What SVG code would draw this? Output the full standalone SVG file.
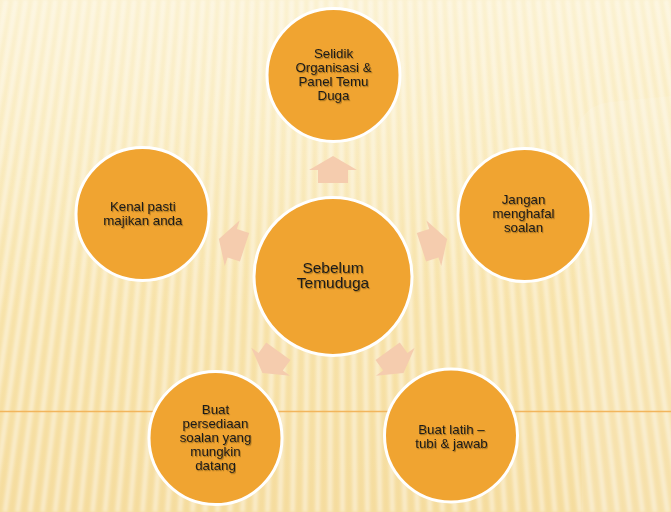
<svg xmlns="http://www.w3.org/2000/svg" width="671" height="512" viewBox="0 0 671 512">
  <defs>
    <linearGradient id="bg" x1="0" y1="0" x2="0" y2="1">
      <stop offset="0" stop-color="#FAEDC2"/>
      <stop offset="0.5" stop-color="#F8E4AC"/>
      <stop offset="1" stop-color="#F5DC9E"/>
    </linearGradient>
    <linearGradient id="topglow" x1="0" y1="0" x2="0" y2="1">
      <stop offset="0" stop-color="#FFFFFF" stop-opacity="0.22"/>
      <stop offset="0.6" stop-color="#FFFFFF" stop-opacity="0"/>
    </linearGradient>
    <filter id="soft" x="-5%" y="-5%" width="110%" height="110%">
      <feGaussianBlur stdDeviation="1.5"/>
    </filter>
    <filter id="tshadow" x="-10%" y="-20%" width="120%" height="140%">
      <feDropShadow dx="0.9" dy="1.2" stdDeviation="0.45" flood-color="#4a3300" flood-opacity="0.45"/>
    </filter>
    <polygon id="arrow" points="0,-120 24,-106 15,-106 15,-93 -15,-93 -15,-106 -24,-106"/>
  </defs>
  <style>
    .node circle { fill: #F0A431; stroke: #FFFFFF; stroke-width: 3; }
    .node text { font-family: "Liberation Sans", Arial, sans-serif; font-size: 13.3px; fill: #1A1A1A; text-anchor: middle; filter: url(#tshadow); }
    #center text { font-size: 15.5px; }
    .arrow { fill: #F5CCAE; }
  </style>

  <!-- background -->
  <rect x="0" y="0" width="671" height="512" fill="url(#bg)"/>
  <g filter="url(#soft)">
    <path fill="none" stroke="#FFFFFF" stroke-opacity="0.42" stroke-width="5"
      d="M-3.8 0L-95 512M6.05 0L-82.5 512M15.9 0L-70 512M25.75 0L-57.5 512M35.6 0L-45 512M45.45 0L-32.5 512M55.3 0L-20 512M65.15 0L-7.5 512M75 0L5 512M84.85 0L17.5 512M94.7 0L30 512M104.55 0L42.5 512M114.4 0L55 512M124.25 0L67.5 512M134.1 0L80 512M143.95 0L92.5 512M153.8 0L105 512M163.65 0L117.5 512M173.5 0L130 512M183.35 0L142.5 512M193.2 0L155 512M203.05 0L167.5 512M212.9 0L180 512M222.75 0L192.5 512M232.6 0L205 512M242.45 0L217.5 512M252.3 0L230 512M262.15 0L242.5 512M272 0L255 512M281.85 0L267.5 512M291.7 0L280 512M301.55 0L292.5 512M311.4 0L305 512M321.25 0L317.5 512M331.1 0L330 512M340.95 0L342.5 512M350.8 0L355 512M360.65 0L367.5 512M370.5 0L380 512M380.35 0L392.5 512M390.2 0L405 512M400.05 0L417.5 512M409.9 0L430 512M419.75 0L442.5 512M429.6 0L455 512M439.45 0L467.5 512M449.3 0L480 512M459.15 0L492.5 512M469 0L505 512M478.85 0L517.5 512M488.7 0L530 512M498.55 0L542.5 512M508.4 0L555 512M518.25 0L567.5 512M528.1 0L580 512M537.95 0L592.5 512M547.8 0L605 512M557.65 0L617.5 512M567.5 0L630 512M577.35 0L642.5 512M587.2 0L655 512M597.05 0L667.5 512M606.9 0L680 512M616.75 0L692.5 512M626.6 0L705 512M636.45 0L717.5 512M646.3 0L730 512M656.15 0L742.5 512M666 0L755 512M675.85 0L767.5 512"/>
  </g>
  <rect x="0" y="0" width="671" height="512" fill="url(#topglow)"/>
  <path d="M671 96 L610 102 Q578 106 576 140 L582 512 L671 512 Z" fill="#FFFFFF" fill-opacity="0.12"/>
  <line x1="0" y1="411.5" x2="671" y2="411.5" stroke="#F2B55C" stroke-width="1.4"/>

  <!-- connectors -->
  <g id="connectors" class="arrow">
    <use href="#arrow" transform="translate(333,276)"/>
    <use href="#arrow" transform="translate(333,276) rotate(72)"/>
    <use href="#arrow" transform="translate(333,276) rotate(144)"/>
    <use href="#arrow" transform="translate(333,276) rotate(216)"/>
    <use href="#arrow" transform="translate(333,276) rotate(288)"/>
  </g>

  <!-- nodes -->
  <g id="center" class="node">
    <circle cx="333" cy="276.5" r="79"/>
    <text x="333" y="272.8">Sebelum</text>
    <text x="333" y="288.4">Temuduga</text>
  </g>
  <g id="n-selidik" class="node">
    <circle cx="333.5" cy="75" r="66.5"/>
    <text x="333.5" y="58">Selidik</text>
    <text x="333.5" y="72">Organisasi &amp;</text>
    <text x="333.5" y="86">Panel Temu</text>
    <text x="333.5" y="100">Duga</text>
  </g>
  <g id="n-jangan" class="node">
    <circle cx="524.5" cy="215" r="66.5"/>
    <text x="523.5" y="204">Jangan</text>
    <text x="523.5" y="218">menghafal</text>
    <text x="523.5" y="232">soalan</text>
  </g>
  <g id="n-latih" class="node">
    <circle cx="451" cy="435.5" r="66.5"/>
    <text x="451.5" y="433.8">Buat latih –</text>
    <text x="451.5" y="447.8">tubi &amp; jawab</text>
  </g>
  <g id="n-persediaan" class="node">
    <circle cx="215.5" cy="438" r="66.5"/>
    <text x="215.5" y="413.5">Buat</text>
    <text x="215.5" y="427.5">persediaan</text>
    <text x="215.5" y="441.5">soalan yang</text>
    <text x="215.5" y="455.5">mungkin</text>
    <text x="215.5" y="469.5">datang</text>
  </g>
  <g id="n-kenal" class="node">
    <circle cx="142.5" cy="214" r="66.5"/>
    <text x="142.8" y="211.2">Kenal pasti</text>
    <text x="142.8" y="225.2">majikan anda</text>
  </g>
</svg>
